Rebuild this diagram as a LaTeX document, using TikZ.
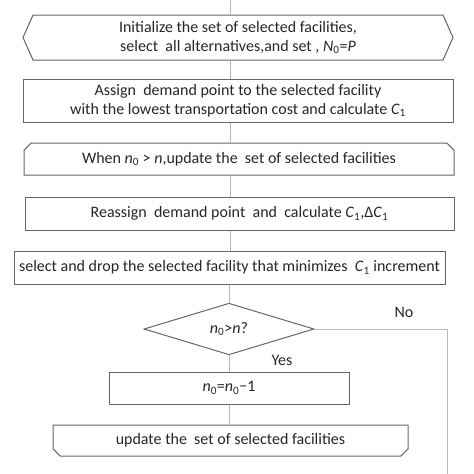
\documentclass[tikz,border=0pt]{standalone}
\usepackage{fontspec}
\setmainfont{Carlito}
\usetikzlibrary{shapes.misc,shapes.symbols,shapes.geometric}
\definecolor{boxgray}{gray}{0.4}
\definecolor{linegray}{gray}{0.72}
\newcommand{\ital}[2]{\textit{#1}\textsubscript{#2}}
\tikzset{
  flow box/.style={
    draw=boxgray,
    line width=1pt,
    minimum width={#1pt},
    minimum height={33pt},
    inner sep=0pt,
    align=center,
    text=black!85,
    font=\fontsize{16}{19}\selectfont,
  },
  loop top/.style={
    flow box=#1,
    chamfered rectangle,
    chamfered rectangle corners={north west,north east},
    chamfered rectangle xsep=4pt,
  },
  loop end/.style={
    flow box=#1,
    chamfered rectangle,
    chamfered rectangle corners={south west,south east},
    chamfered rectangle xsep=4pt,
  },
  link/.style={
    draw=linegray,
    line width=0.9pt,
  },
  label/.style={
    text=black!85,
    font=\fontsize{16}{19}\selectfont,
  }
}
\begin{document}
\begin{tikzpicture}[x=1pt,y=-1pt]
    \useasboundingbox (0,0) rectangle (474,474);

    \node [flow box=430, signal, signal to=west and east, signal pointer angle=132,
      minimum height=45pt] (init) at (238,37.5)
      {Initialize the set of selected facilities,\\select~ all alternatives,and set , \ital{N}{0}=\textit{P}};
    \node [flow box=430, minimum height=43pt] (assign) at (238,100.5)
      {Assign~ demand point to the selected facility\\with the lowest transportation cost and calculate \ital{C}{1}};
    \node [loop top=430, minimum height=32pt] (when) at (239,159)
      {When \ital{n}{0} > \textit{n},update the~ set of selected facilities};
    \node [flow box=429] (reassign) at (239.5,213.5)
      {Reassign~ demand point~ and~ calculate \ital{C}{1},Δ\ital{C}{1}};
    \node [flow box=431] (drop) at (229.5,267.5)
      {select and drop the selected facility that minimizes~ \ital{C}{1} increment};
    \node [flow box=170, diamond, minimum height=48pt] (test) at (229,329)
      {\ital{n}{0}>\textit{n}?};
    \node [flow box=240, minimum height=32pt] (dec) at (229,388)
      {\ital{n}{0}=\ital{n}{0}−1};
    \node [loop end=355, minimum height=31pt] (update) at (230.5,440.5)
      {update the~ set of selected facilities};

    \node [label] (no) at (404,312) {No};
    \node [label] (yes) at (282,360) {Yes};

    \coordinate (spine) at (230,0);
    \coordinate (noend) at (447,474);
    \draw [link] (spine) -- (spine |- init.north);
    \draw [link] (spine |- init.south) -- (spine |- assign.north);
    \draw [link] (spine |- assign.south) -- (spine |- when.north);
    \draw [link] (spine |- when.south) -- (spine |- reassign.north);
    \draw [link] (spine |- reassign.south) -- (spine |- drop.north);
    \draw [link] (test.north |- drop.south) -- (test.north);
    \draw [link] (test.south) -- (test.south |- dec.north);
    \draw [link] (test.south |- dec.south) -- (test.south |- update.north);
    \draw [link] (test.east) -| (noend);
\end{tikzpicture}
\end{document}
